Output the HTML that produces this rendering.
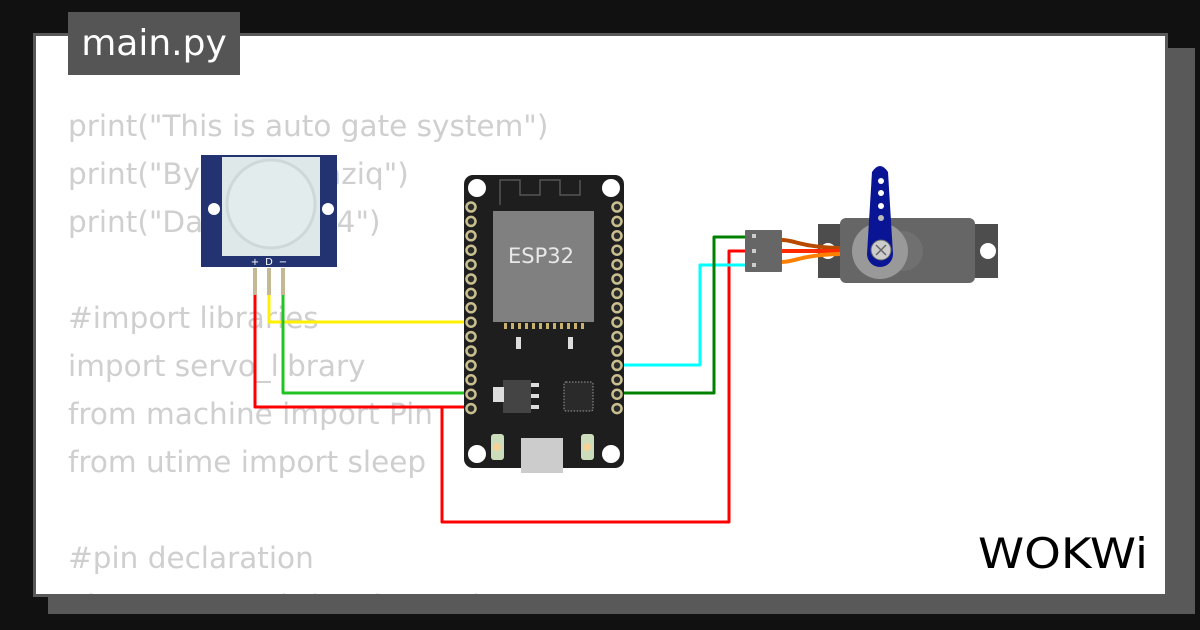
<!DOCTYPE html>
<html><head><meta charset="utf-8"><style>
html,body{margin:0;padding:0;background:#111;}
.wrap{position:relative;width:1200px;height:630px;overflow:hidden;background:#111;font-family:"DejaVu Sans","Liberation Sans",sans-serif;}
.shadow{position:absolute;left:48px;top:48px;width:1147px;height:566px;background:#595959;}
.panel{position:absolute;left:33px;top:33px;width:1129px;height:558px;border:3px solid #595959;background:#fff;overflow:hidden;}
.code{position:absolute;left:32px;top:66px;color:#cfcfcf;font-size:29.5px;line-height:48px;white-space:pre;}
.tab{position:absolute;left:68px;top:12px;width:172px;height:63px;background:#555;color:#fff;font-size:36px;line-height:63px;text-align:center;}
svg{position:absolute;left:0;top:0;}
</style></head><body><div class="wrap">
<div class="shadow"></div>
<div class="panel"><div class="code">print("This is auto gate system")
print("By Abdul Raziq")
print("Date: 2 2024")

#import libraries
import servo_library
from machine import Pin
from utime import sleep

#pin declaration
pir_sensor = Pin(2, Pin.OUT)</div></div>
<div class="tab">main.py</div>
<svg width="1200" height="630" viewBox="0 0 1200 630">
<g fill="none" stroke-width="3" stroke-linejoin="round">
<path d="M269 295 V322 H471" stroke="#ffef00"/>
<path d="M283 295 V393 H471" stroke="#22c322"/>
<path d="M255 295 V407 H471" stroke="#f00"/>
<path d="M471 407 H442 V522 H729 V251 H750" stroke="#f00"/>
<path d="M617 365 H700 V265 H750" stroke="#00ffff"/>
<path d="M617 393 H714 V237 H750" stroke="#008000"/>
</g>
<rect x="201" y="155" width="136" height="112" fill="#233270"/>
<rect x="222" y="157" width="98" height="99" fill="#dfe8e8"/>
<circle cx="271" cy="204" r="44" fill="#e3ecec" stroke="#cfd8d8" stroke-width="3"/>
<circle cx="214" cy="209" r="6" fill="#fff"/>
<circle cx="328" cy="209" r="6" fill="#fff"/>
<text x="255" y="265" fill="#fff" font-size="10" text-anchor="middle">+</text>
<text x="269" y="265" fill="#fff" font-size="10" text-anchor="middle">D</text>
<text x="283" y="265" fill="#fff" font-size="10" text-anchor="middle">−</text>
<rect x="253" y="268" width="4" height="27" fill="#c4b994"/>
<rect x="267" y="268" width="4" height="27" fill="#c4b994"/>
<rect x="281" y="268" width="4" height="27" fill="#c4b994"/>
<rect x="464" y="175" width="160" height="293" rx="9" fill="#1e1e1e"/>
<circle cx="477" cy="188" r="9" fill="#fff"/><circle cx="611" cy="188" r="9" fill="#fff"/>
<circle cx="477" cy="454" r="9" fill="#fff"/><circle cx="611" cy="454" r="9" fill="#fff"/>
<path d="M500 205 V180 H520 V195 H540 V180 H560 V195 H580 V180" fill="none" stroke="#555" stroke-width="1.5"/>
<rect x="493" y="211" width="101" height="111" fill="#808080"/>
<text x="541" y="263" fill="#e8e8e8" font-size="21" text-anchor="middle">ESP32</text>
<g fill="#c9b26d">
<rect x="504" y="323" width="3" height="6"/><rect x="511" y="323" width="3" height="6"/><rect x="518" y="323" width="3" height="6"/><rect x="525" y="323" width="3" height="6"/><rect x="532" y="323" width="3" height="6"/><rect x="539" y="323" width="3" height="6"/><rect x="546" y="323" width="3" height="6"/><rect x="553" y="323" width="3" height="6"/><rect x="560" y="323" width="3" height="6"/><rect x="567" y="323" width="3" height="6"/><rect x="574" y="323" width="3" height="6"/><rect x="581" y="323" width="3" height="6"/>
</g>
<rect x="516" y="337" width="5" height="12" fill="#ddd"/><rect x="568" y="337" width="5" height="12" fill="#ddd"/>
<rect x="503" y="380" width="28" height="33" fill="#444"/><rect x="493" y="387" width="11" height="15" fill="#ddd"/>
<rect x="531" y="383" width="8" height="4" fill="#ddd"/><rect x="531" y="394" width="8" height="4" fill="#ddd"/><rect x="531" y="405" width="8" height="4" fill="#ddd"/>
<rect x="564" y="382" width="29" height="29" rx="2" fill="#2a2a2a" stroke="#999" stroke-dasharray="1.5 1.5"/>
<rect x="521" y="438" width="42" height="35" fill="#ccc"/>
<rect x="491" y="434" width="13" height="26" rx="3" fill="#cdb"/><circle cx="497" cy="447" r="4" fill="#f6d29a"/>
<rect x="581" y="434" width="13" height="26" rx="3" fill="#cdb"/><circle cx="587" cy="447" r="4" fill="#f6d29a"/>
<g fill="#2b2b2b" stroke="#c9bf8f" stroke-width="2.5">
<circle cx="471" cy="207" r="4.5"/><circle cx="471" cy="221.4" r="4.5"/><circle cx="471" cy="235.8" r="4.5"/><circle cx="471" cy="250.2" r="4.5"/><circle cx="471" cy="264.6" r="4.5"/><circle cx="471" cy="279" r="4.5"/><circle cx="471" cy="293.4" r="4.5"/><circle cx="471" cy="307.8" r="4.5"/><circle cx="471" cy="322.2" r="4.5"/><circle cx="471" cy="336.6" r="4.5"/><circle cx="471" cy="351" r="4.5"/><circle cx="471" cy="365.4" r="4.5"/><circle cx="471" cy="379.8" r="4.5"/><circle cx="471" cy="394.2" r="4.5"/><circle cx="471" cy="408.6" r="4.5"/>
<circle cx="617" cy="207" r="4.5"/><circle cx="617" cy="221.4" r="4.5"/><circle cx="617" cy="235.8" r="4.5"/><circle cx="617" cy="250.2" r="4.5"/><circle cx="617" cy="264.6" r="4.5"/><circle cx="617" cy="279" r="4.5"/><circle cx="617" cy="293.4" r="4.5"/><circle cx="617" cy="307.8" r="4.5"/><circle cx="617" cy="322.2" r="4.5"/><circle cx="617" cy="336.6" r="4.5"/><circle cx="617" cy="351" r="4.5"/><circle cx="617" cy="365.4" r="4.5"/><circle cx="617" cy="379.8" r="4.5"/><circle cx="617" cy="394.2" r="4.5"/><circle cx="617" cy="408.6" r="4.5"/>
</g>
<rect x="818" y="224" width="180" height="54" fill="#4d4d4d"/>
<circle cx="828" cy="251" r="8" fill="#fff"/><circle cx="988" cy="251" r="8" fill="#fff"/>
<rect x="840" y="218" width="135" height="65" rx="6" fill="#666"/>
<circle cx="903" cy="251" r="20" fill="#707070"/>
<circle cx="880" cy="251" r="28" fill="#999"/>
<path d="M782 240 C795 240 800 247 840 248" stroke="#b84a00" stroke-width="4" fill="none"/>
<path d="M782 251 H840" stroke="#ff2a00" stroke-width="4" fill="none"/>
<path d="M782 262 C795 262 800 255 840 254" stroke="#ff8000" stroke-width="4" fill="none"/>
<path d="M872 172 Q880 160 888 172 L893 254 A13 13 0 0 1 867 254 Z" fill="#0a1596"/>
<circle cx="881" cy="181" r="3" fill="#fff"/><circle cx="881" cy="193" r="3" fill="#fff"/><circle cx="881" cy="206" r="3" fill="#fff"/><circle cx="881" cy="218" r="3" fill="#bbb"/>
<circle cx="881" cy="250" r="10" fill="#ccc" stroke="#666" stroke-width="1"/>
<path d="M876 245 L886 255 M886 245 L876 255" stroke="#666" stroke-width="1.5"/>
<rect x="745" y="230" width="37" height="42" rx="1" fill="#666"/>
<g fill="#ccc"><rect x="752" y="234" width="4" height="4"/><rect x="752" y="249" width="4" height="4"/><rect x="752" y="263" width="4" height="4"/></g>
<text x="978" y="568" font-family="'DejaVu Sans',sans-serif" font-size="42" fill="#000" textLength="170" lengthAdjust="spacingAndGlyphs">WOKWi</text>
</svg>
</div></body></html>
